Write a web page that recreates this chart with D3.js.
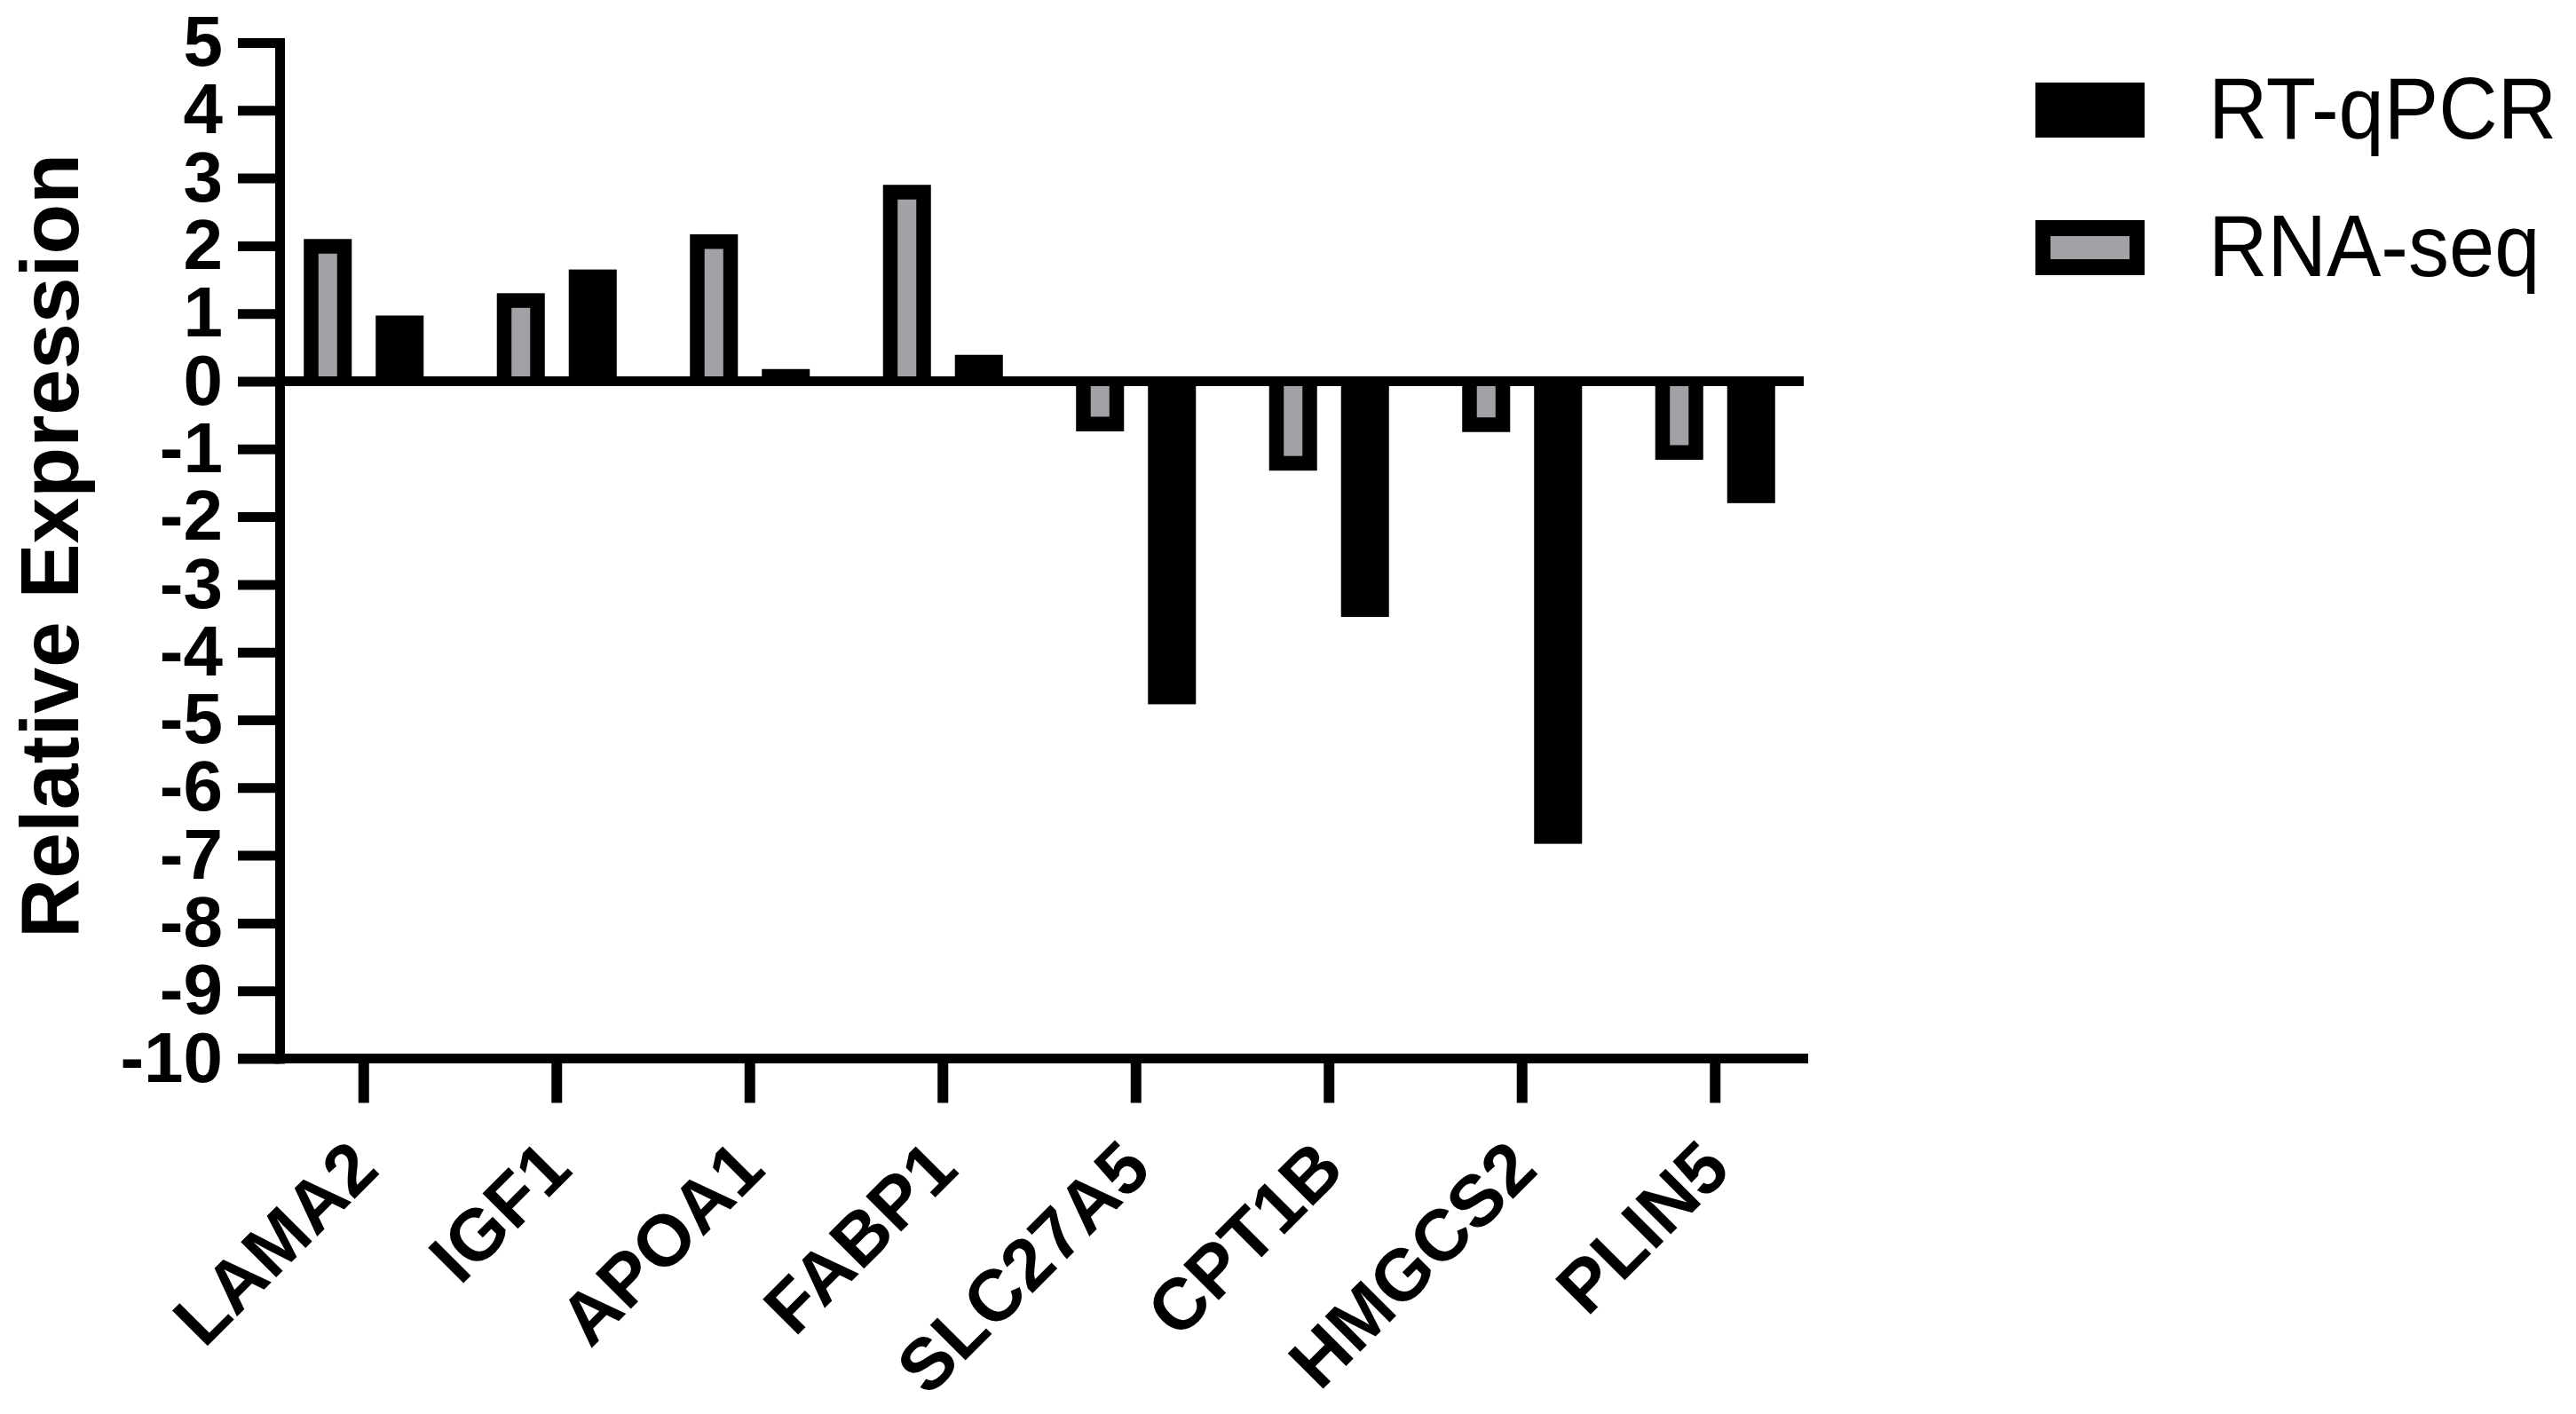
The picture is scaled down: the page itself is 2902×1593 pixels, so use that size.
<!DOCTYPE html>
<html>
<head>
<meta charset="utf-8">
<script src="https://cdn.jsdelivr.net/npm/d3@7"></script>
<style>
  body { margin: 0; background: #fff; }
  text { font-family: "Liberation Sans", Arial, sans-serif; }
</style>
</head>
<body>
<div id="chart"></div>
<script>
// data
const genes = ["LAMA2", "IGF1", "APOA1", "FABP1", "SLC27A5", "CPT1B", "HMGCS2", "PLIN5"];
const rnaSeq = [2.10, 1.30, 2.17, 2.90, -0.74, -1.32, -0.75, -1.16];
const rtQpcr = [0.97, 1.65, 0.18, 0.39, -4.77, -3.48, -6.83, -1.80];
const legendNames = ["RT-qPCR", "RNA-seq"];
const yTickValues = [5, 4, 3, 2, 1, 0, -1, -2, -3, -4, -5, -6, -7, -8, -9, -10];

const W = 2902, H = 1593;
const axisX = 315;          // y axis line
const tickLen = 47;
const xEnd = 2037;          // right end of bottom axis
const lineW = 11;
const border = 16.5;        // black frame round the gray bars
const gray = "#a2a2a6";

const svg = d3.select("#chart")
  .append("svg")
  .attr("width", W)
  .attr("height", H)
  .style("background-color", "white");

// scales
const y = d3.scaleLinear().domain([-10, 5]).range([1192.5, 48]);

const x0 = d3.scaleBand()
  .domain(genes)
  .range([301, 2041])
  .padding(0);

const x1 = d3.scaleBand()
  .domain(["RNA-seq", "RT-qPCR"])
  .range([0, x0.bandwidth()])
  .paddingInner(0.333)
  .paddingOuter(0.509);

const rows = genes.map((g, i) => ({ gene: g, rna: rnaSeq[i], q: rtQpcr[i] }));
const bw = x1.bandwidth();

// RNA-seq bars: black frame with gray inside (no frame on the baseline side)
const rnaG = svg.append("g");
rnaG.selectAll("rect.outer")
  .data(rows)
  .join("rect")
  .attr("class", "outer")
  .attr("x", d => x0(d.gene) + x1("RNA-seq"))
  .attr("y", d => Math.min(y(d.rna), y(0)))
  .attr("width", bw)
  .attr("height", d => Math.abs(y(d.rna) - y(0)))
  .attr("fill", "black");

rnaG.selectAll("rect.inner")
  .data(rows)
  .join("rect")
  .attr("class", "inner")
  .attr("x", d => x0(d.gene) + x1("RNA-seq") + border)
  .attr("y", d => d.rna >= 0 ? y(d.rna) + border : y(0))
  .attr("width", bw - 2 * border)
  .attr("height", d => Math.max(0, Math.abs(y(d.rna) - y(0)) - border))
  .attr("fill", gray);

// RT-qPCR bars: solid black
svg.append("g")
  .selectAll("rect")
  .data(rows)
  .join("rect")
  .attr("x", d => x0(d.gene) + x1("RT-qPCR"))
  .attr("y", d => Math.min(y(d.q), y(0)))
  .attr("width", bw)
  .attr("height", d => Math.abs(y(d.q) - y(0)))
  .attr("fill", "black");

// zero line
svg.append("line")
  .attr("x1", axisX)
  .attr("x2", 2032)
  .attr("y1", y(0))
  .attr("y2", y(0))
  .attr("stroke", "black")
  .attr("stroke-width", lineW);

// y axis (plain hyphen for negatives, as in the figure)
const yAxis = svg.append("g")
  .attr("transform", `translate(${axisX},0)`)
  .call(d3.axisLeft(y)
    .tickValues(yTickValues)
    .tickFormat(d => String(d))
    .tickSize(tickLen)
    .tickPadding(17)
    .tickSizeOuter(0));

yAxis.select(".domain")
  .attr("stroke-width", lineW)
  .attr("stroke-linecap", "square");
yAxis.selectAll(".tick line").attr("stroke-width", lineW);
yAxis.selectAll(".tick text")
  .style("font-size", "80px")
  .style("font-weight", "bold")
  .style("fill", "black");

// bottom axis
svg.append("line")
  .attr("x1", axisX - tickLen)
  .attr("x2", xEnd)
  .attr("y1", y(-10))
  .attr("y2", y(-10))
  .attr("stroke", "black")
  .attr("stroke-width", lineW);

const xAxis = svg.append("g")
  .attr("transform", `translate(0,${y(-10)})`)
  .call(d3.axisBottom(x0).tickSize(50).tickSizeOuter(0));

xAxis.select(".domain").remove();
xAxis.selectAll(".tick line").attr("stroke-width", 12);
xAxis.selectAll(".tick text")
  .attr("y", 0)
  .attr("dy", 0)
  .attr("text-anchor", "end")
  .attr("transform", "translate(20,128) rotate(-45)")
  .style("font-size", "82px")
  .style("font-weight", "bold")
  .style("fill", "black");

// y axis title
svg.append("text")
  .attr("transform", "translate(88,615) rotate(-90)")
  .attr("text-anchor", "middle")
  .style("font-size", "93px")
  .style("font-weight", "bold")
  .text("Relative Expression");

// legend
const legend = svg.append("g")
  .selectAll("g")
  .data(legendNames)
  .join("g")
  .attr("transform", (d, i) => `translate(2293,${93 + i * 155})`);

legend.append("rect")
  .attr("width", 123)
  .attr("height", 62)
  .attr("fill", "black");

legend.filter(d => d === "RNA-seq")
  .append("rect")
  .attr("x", 17)
  .attr("y", 18)
  .attr("width", 123 - 34)
  .attr("height", 62 - 36)
  .attr("fill", gray);

legend.append("text")
  .attr("transform", "translate(195,63) scale(0.93,1)")
  .style("font-size", "99px")
  .text(d => d);
</script>
</body>
</html>
